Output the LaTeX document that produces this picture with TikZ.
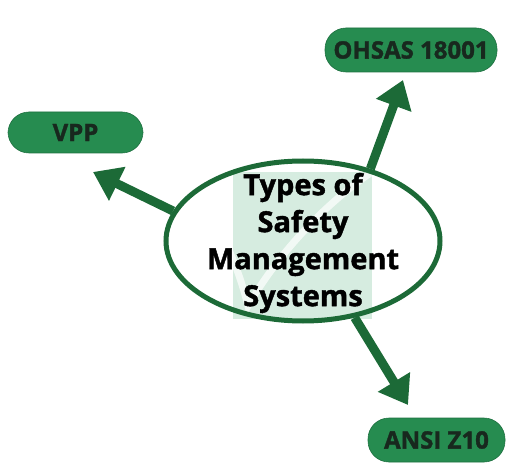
\documentclass[tikz,border=0pt]{standalone}
\usepackage{fontspec}
\setmainfont{Open Sans}
\newfontfamily\heavyfont[FakeBold=1.4]{Open Sans}
\usetikzlibrary{arrows.meta,shapes.geometric}
\definecolor{darkgreen}{RGB}{28,106,55}
\definecolor{boxgreen}{RGB}{38,140,80}
\definecolor{paleg}{RGB}{214,236,224}
\definecolor{inkgreen}{RGB}{24,40,30}
\begin{document}
\begin{tikzpicture}[
    x=1pt,
    y=-1pt,
    system/.style={
        draw=boxgreen!80!black,
        line width=0.6pt,
        fill=boxgreen,
        rounded corners=21pt,
        inner sep=0pt,
        text=inkgreen,
        font=\heavyfont\fontsize{24}{26}\selectfont\bfseries
    },
    hub/.style={
        ellipse,
        draw=darkgreen,
        line width=5pt,
        minimum width=274pt,
        minimum height=160pt,
        inner sep=0pt
    },
    spoke/.style={
        darkgreen,
        line width=9pt,
        -{Triangle[length=27pt,width=36pt]}
    }
]

\useasboundingbox (0,0) rectangle (522,473);

\fill[paleg] (233,172) rectangle (372,319);
\draw[white, opacity=0.7, line width=7pt, line cap=round]
    (228,248) .. controls (238,270) and (244,290) .. (248,306)
    .. controls (280,250) and (330,200) .. (372,172);

\node[hub] (sms) at (303,241) {};
\node[align=center, inner sep=0pt, text=black,
      font=\heavyfont\fontsize{29}{37}\selectfont\bfseries] (title) at (303,243)
    {Types of\\Safety\\Management\\Systems};

\node[system, minimum width=172pt, minimum height=44pt] (ohsas) at (411,50) {OHSAS 18001};
\node[system, minimum width=135pt, minimum height=41pt] (vpp) at (75.5,132.5) {VPP};
\node[system, minimum width=137pt, minimum height=44pt] (ansi) at (436.5,440) {ANSI Z10};

\coordinate (ohsastip) at (403,80);
\coordinate (vpptip) at (93,172);
\coordinate (ansitip) at (408,405);

\draw[spoke] (sms.47) -- (ohsastip);
\draw[spoke] (sms.167) -- (vpptip);
\draw[spoke] (sms.-56) -- (ansitip);

\end{tikzpicture}
\end{document}
